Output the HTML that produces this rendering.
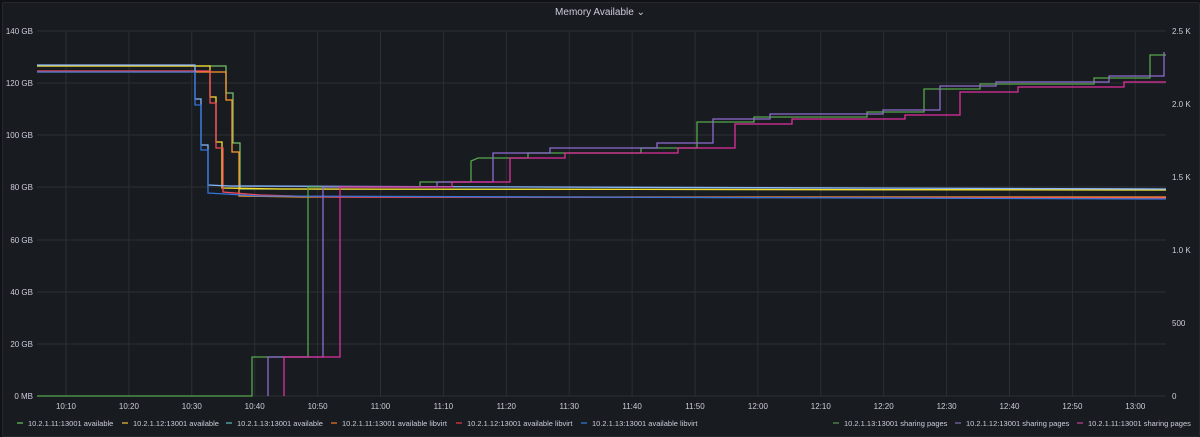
<!DOCTYPE html>
<html><head><meta charset="utf-8"><style>
html,body{margin:0;padding:0;background:#111217;}
.p{position:absolute;left:2px;top:2px;width:1196px;height:433px;background:#181b1f;border:1px solid #24272d;border-radius:2px;}
text{font-family:"Liberation Sans",sans-serif;fill:#ccccdc;}
</style></head><body>
<div class="p"></div>
<svg width="1200" height="437" style="position:absolute;left:0;top:0">
<text x="600" y="15" font-size="10" text-anchor="middle" fill="#d8d9da">Memory Available ⌄</text>
<g stroke="#2c2f35" stroke-width="1">
<line x1="37" x2="1166" y1="31" y2="31"/><line x1="37" x2="1166" y1="83" y2="83"/><line x1="37" x2="1166" y1="135" y2="135"/><line x1="37" x2="1166" y1="187" y2="187"/><line x1="37" x2="1166" y1="240" y2="240"/><line x1="37" x2="1166" y1="292" y2="292"/><line x1="37" x2="1166" y1="344" y2="344"/><line x1="37" x2="1166" y1="396" y2="396"/>
</g>
<g stroke="#2c2f35" stroke-width="1" id="vg"></g>
<g font-size="8" text-anchor="end">
<text x="33" y="34">140 GB</text><text x="33" y="86">120 GB</text><text x="33" y="138">100 GB</text><text x="33" y="190">80 GB</text><text x="33" y="243">60 GB</text><text x="33" y="295">40 GB</text><text x="33" y="347">20 GB</text><text x="33" y="399">0 MB</text>
</g>
<g font-size="8" text-anchor="start">
<text x="1172" y="34">2.5 K</text><text x="1172" y="107">2.0 K</text><text x="1172" y="180">1.5 K</text><text x="1172" y="253">1.0 K</text><text x="1172" y="326">500</text><text x="1172" y="399">0</text>
</g>
<g font-size="8" text-anchor="middle" id="xl"></g>
<g fill="none" stroke-width="1.3">
<polyline stroke="#73bf69" points="37,66 226,66 226,93 233,93 233,143 240,143 240,189 300,189 1166,190"/>
<polyline stroke="#ff9830" points="37,72 226,72 226,100 232,100 232,152 239,152 239,196 300,197 1166,197"/>
<polyline stroke="#fade2a" points="37,66 210,66 210,97 216,97 216,142 222,142 222,188 280,189 1166,190"/>
<polyline stroke="#f2495c" points="37,71 210,71 210,103 216,103 216,148 223,148 223,192 260,195 330,197 1166,198"/>
<polyline stroke="#8ab8ff" points="37,65 195,65 195,99 201,99 201,145 208,145 208,185 230,186 1166,189"/>
<polyline stroke="#3274d9" points="37,72 195,72 195,105 201,105 201,150 208,150 208,193 225,194 260,196 1166,199"/>
<polyline stroke="#56a64b" points="37,396 252,396 252,357 308,357 308,187 420,187 420,182 471,182 471,161 478,158 528,158 528,153 641,153 641,148 697,148 697,122 754,122 754,117 867,117 867,112 924,112 924,89 980,89 980,84 1094,84 1094,78 1150,78 1150,55 1166,55"/>
<polyline stroke="#8f6cd1" points="268,396 268,357 323,357 323,187 437,187 437,182 493,182 493,153 550,153 550,148 657,148 657,143 713,143 713,119 770,119 770,114 883,114 883,110 940,110 940,86 996,86 996,82 1109,82 1109,76 1164,76 1164,52"/>
<polyline stroke="#e02f9e" points="284,396 284,357 340,357 340,187 452,187 452,182 510,182 510,158 565,158 565,153 678,153 678,148 735,148 735,124 792,124 792,119 905,119 905,115 960,115 960,92 1018,92 1018,87 1124,87 1124,82 1166,82"/>
</g>
<g font-size="7.5">
<g id="lg"></g>
</g>
</svg>
<script>
var ns="http://www.w3.org/2000/svg";
var vg=document.getElementById('vg'),xl=document.getElementById('xl');
var labels=["10:10","10:20","10:30","10:40","10:50","11:00","11:10","11:20","11:30","11:40","11:50","12:00","12:10","12:20","12:30","12:40","12:50","13:00"];
labels.forEach(function(l,i){var x=66+i*62.9;var ln=document.createElementNS(ns,'line');ln.setAttribute('x1',x);ln.setAttribute('x2',x);ln.setAttribute('y1',31);ln.setAttribute('y2',396);vg.appendChild(ln);
var t=document.createElementNS(ns,'text');t.setAttribute('x',x);t.setAttribute('y',409);t.textContent=l;xl.appendChild(t);});
var lg=document.getElementById('lg');
var items=[[17,"#56a64b","10.2.1.11:13001 available"],[122,"#c4a236","10.2.1.12:13001 available"],[226,"#4a9ea0","10.2.1.13:13001 available"],[331,"#c4682a","10.2.1.11:13001 available libvirt"],[456,"#c4313f","10.2.1.12:13001 available libvirt"],[581,"#2e6ab8","10.2.1.13:13001 available libvirt"],[833,"#4a7a42","10.2.1.13:13001 sharing pages"],[955,"#6a5a9a","10.2.1.12:13001 sharing pages"],[1077,"#a03a80","10.2.1.11:13001 sharing pages"]];
items.forEach(function(it){var ln=document.createElementNS(ns,'line');ln.setAttribute('x1',it[0]);ln.setAttribute('x2',it[0]+6);ln.setAttribute('y1',423);ln.setAttribute('y2',423);ln.setAttribute('stroke',it[1]);ln.setAttribute('stroke-width',1.5);lg.appendChild(ln);
var t=document.createElementNS(ns,'text');t.setAttribute('x',it[0]+11);t.setAttribute('y',426);t.textContent=it[2];lg.appendChild(t);});
</script>
</body></html>
